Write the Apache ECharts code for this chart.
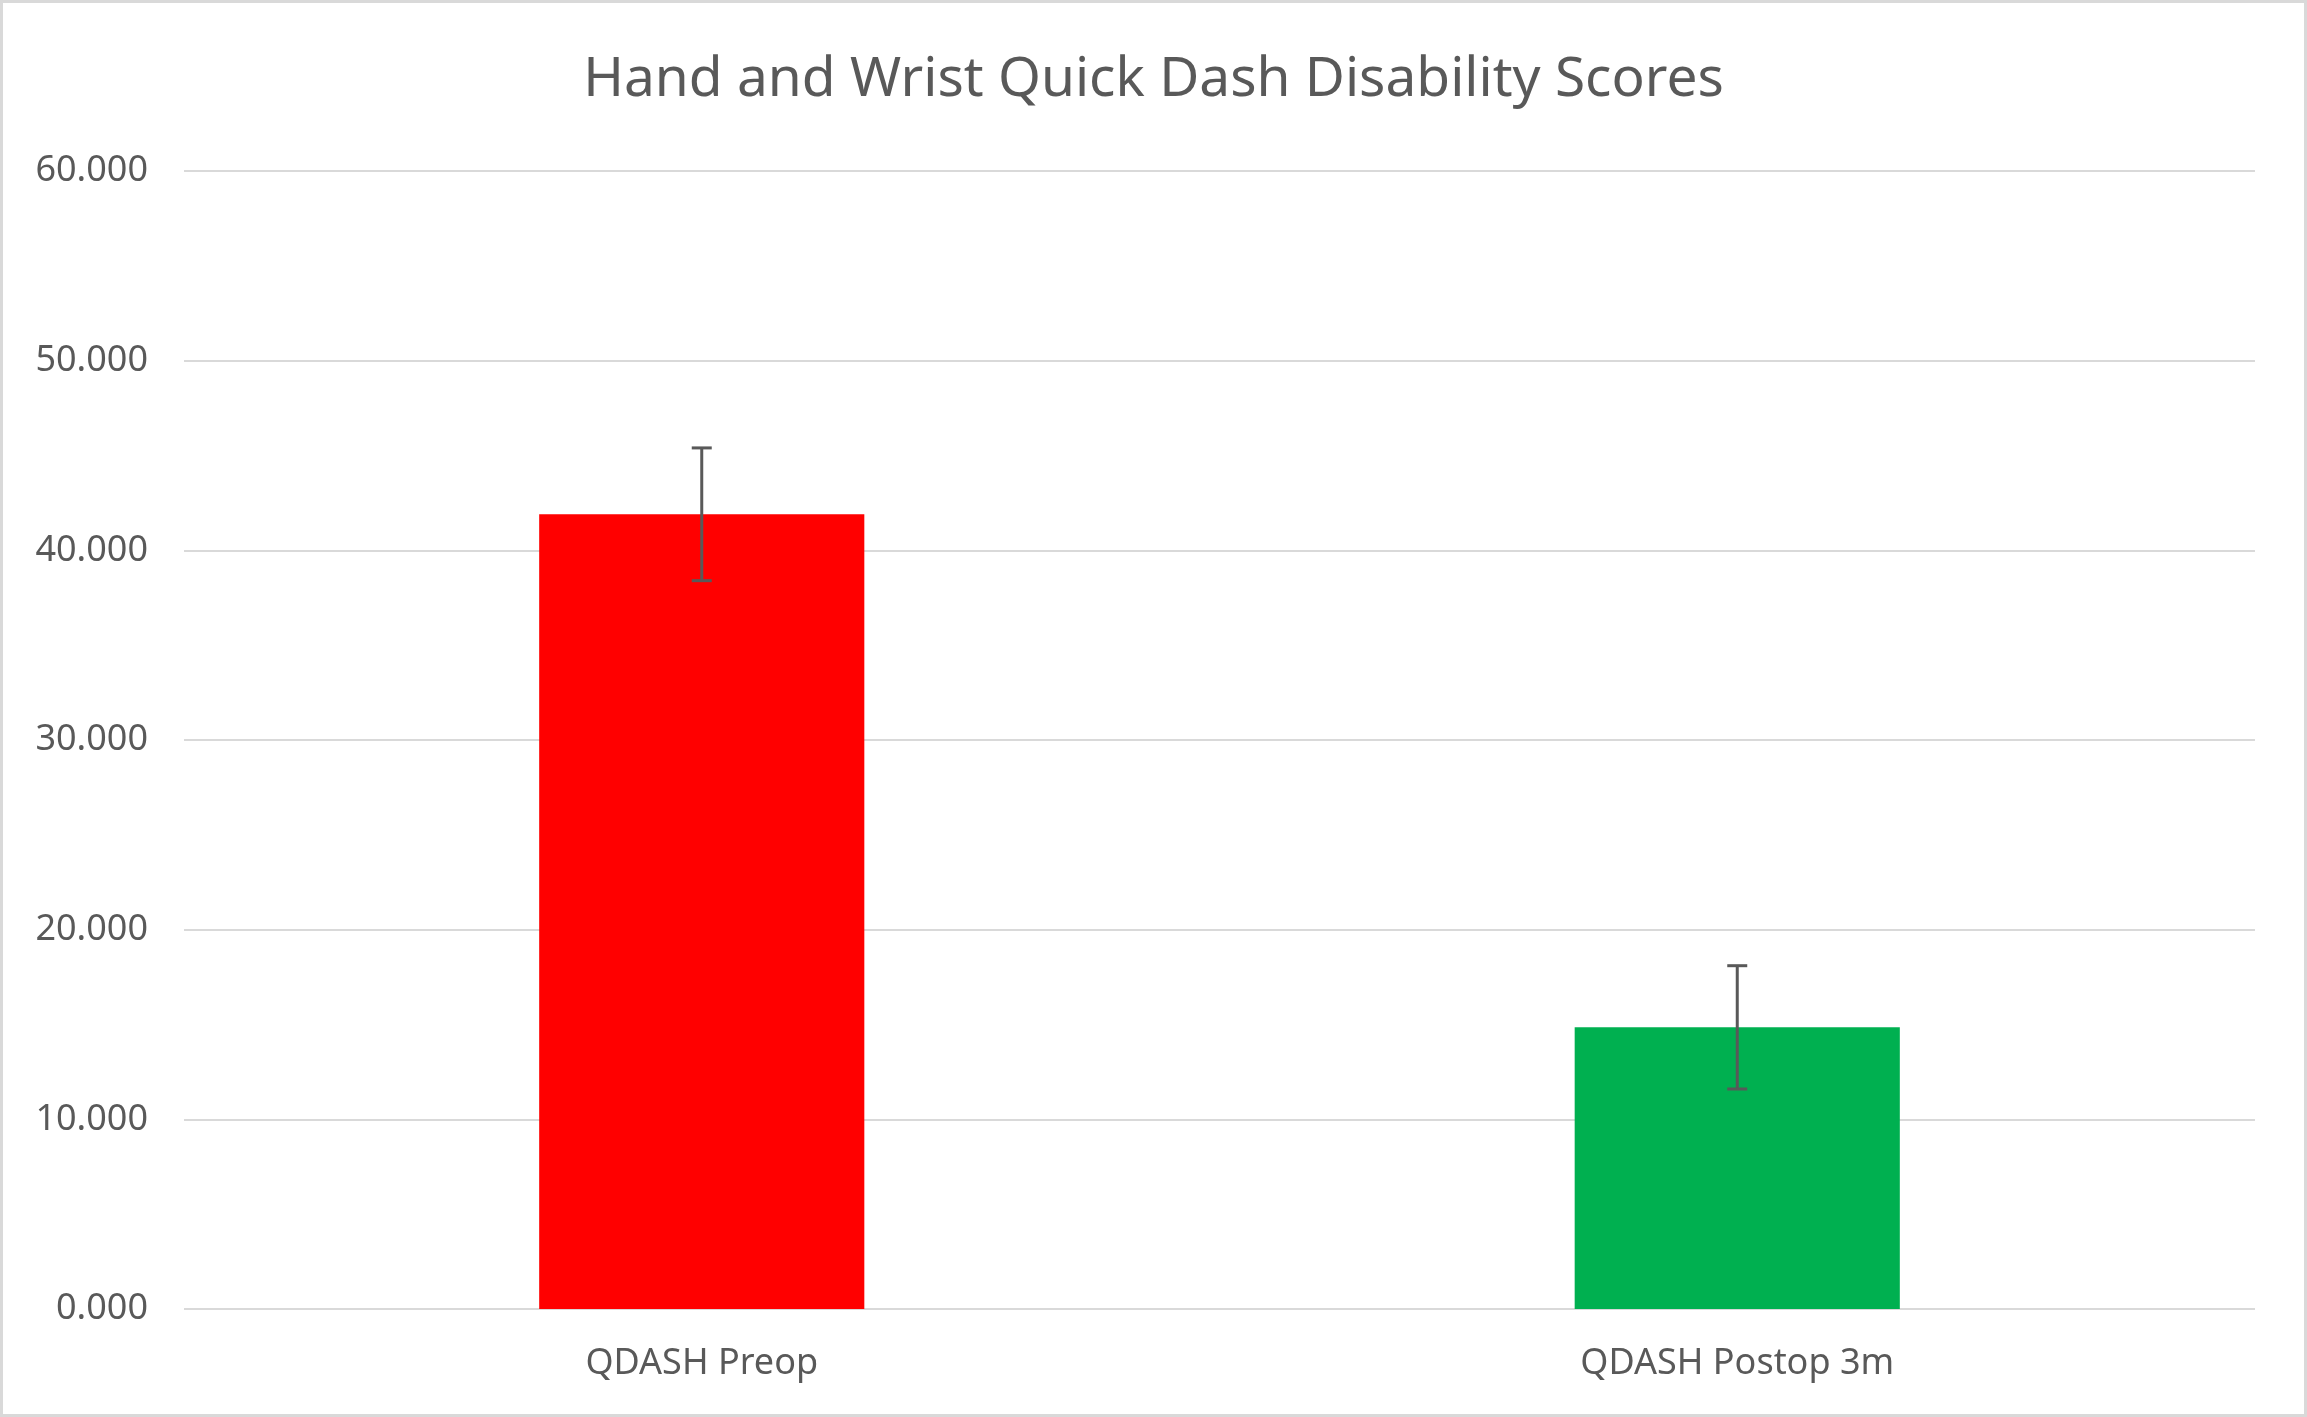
<!DOCTYPE html>
<html>
    <head>
        <title>Hand and Wrist Quick Dash Disability Scores</title>
        <meta charset="UTF-8">
        <script src="https://cdn.jsdelivr.net/npm/echarts@6.0.0/dist/echarts.min.js"></script>
        <style>
            html, body {
                margin: 0;
                padding: 0;
                background-color: #fff;
            }
            #main {
                width: 2307px;
                height: 1417px;
                box-sizing: border-box;
                border: 3px solid #d9d9d9;
            }
        </style>
    </head>
    <body>
        <div id="main"></div>
        <script>
            // values
            var categories = ['QDASH Preop', 'QDASH Postop 3m'];
            var means = [41.9, 14.85];
            var errLow = [38.4, 11.6];
            var errHigh = [45.4, 18.1];
            var barColors = ['#ff0000', '#00b050'];

            var textColor = '#595959';
            var fontName = 'Noto Sans';

            var barData = [];
            var errData = [];
            for (var i = 0; i < categories.length; i++) {
                barData.push({value: means[i], itemStyle: {color: barColors[i]}});
                errData.push([i, errLow[i], errHigh[i]]);
            }

            var chart = echarts.init(document.getElementById('main'));

            var option = {
                animation: false,
                title: {
                    text: 'Hand and Wrist Quick Dash Disability Scores',
                    left: 'center',
                    top: 45,
                    textStyle: {
                        color: textColor,
                        fontFamily: fontName,
                        fontWeight: 'normal',
                        fontSize: 55
                    }
                },
                grid: {
                    left: 181,
                    right: 49,
                    top: 168,
                    bottom: 105
                },
                xAxis: {
                    type: 'category',
                    data: categories,
                    axisLine: {show: false},
                    axisTick: {show: false},
                    axisLabel: {
                        color: textColor,
                        fontFamily: fontName,
                        fontSize: 36,
                        margin: 37
                    }
                },
                yAxis: {
                    type: 'value',
                    min: 0,
                    max: 60,
                    interval: 10,
                    axisLine: {show: false},
                    axisTick: {show: false},
                    splitLine: {lineStyle: {color: '#d9d9d9', width: 2}},
                    axisLabel: {
                        color: textColor,
                        fontFamily: fontName,
                        fontSize: 36,
                        margin: 36,
                        formatter: function (v) { return v.toFixed(3); }
                    }
                },
                series: [{
                        name: 'mean',
                        type: 'bar',
                        barWidth: '31.4%',
                        data: barData
                    }, {
                        name: 'error',
                        type: 'custom',
                        data: errData,
                        encode: {x: 0, y: [1, 2]},
                        z: 10,
                        renderItem: function (params, api) {
                            var idx = api.value(0);
                            var lo = api.coord([idx, api.value(1)]);
                            var hi = api.coord([idx, api.value(2)]);
                            var half = 10;
                            var st = {stroke: textColor, lineWidth: 3};
                            return {
                                type: 'group',
                                children: [
                                    {type: 'line', shape: {x1: hi[0], y1: hi[1], x2: lo[0], y2: lo[1]}, style: st},
                                    {type: 'line', shape: {x1: hi[0] - half, y1: hi[1], x2: hi[0] + half, y2: hi[1]}, style: st},
                                    {type: 'line', shape: {x1: lo[0] - half, y1: lo[1], x2: lo[0] + half, y2: lo[1]}, style: st}
                                ]
                            };
                        }
                    }]
            };
            chart.setOption(option);
        </script>
    </body>
</html>
